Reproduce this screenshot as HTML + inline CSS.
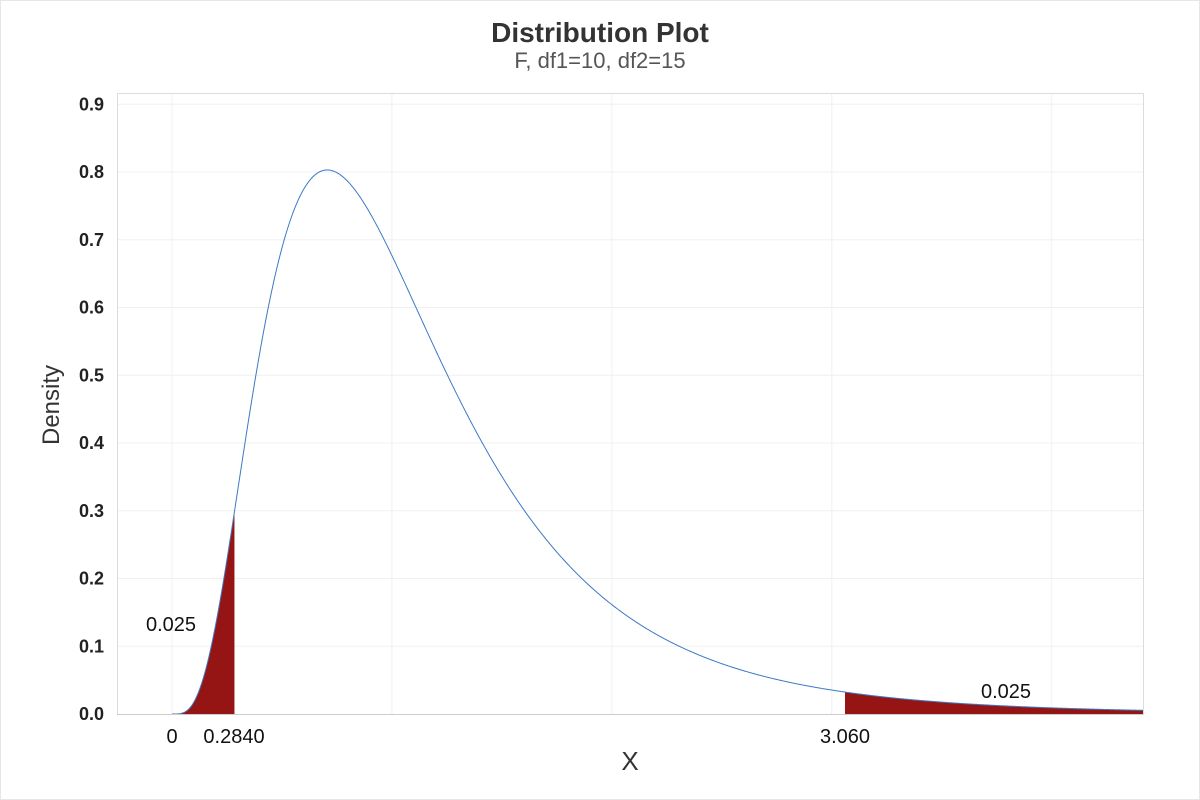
<!DOCTYPE html>
<html><head><meta charset="utf-8"><style>
html,body{margin:0;padding:0;background:#fff}
svg{display:block}
text{font-family:"Liberation Sans",sans-serif}
</style></head><body>
<svg id="s" width="1200" height="800" viewBox="0 0 1200 800">
<rect x="0.5" y="0.5" width="1199" height="799" fill="#fff" stroke="#e6e6e6"/>
<g id="grid" stroke="#f0f0f0" stroke-width="1"></g>
<rect x="117.5" y="93.5" width="1026" height="621" fill="none" stroke="#dcdcdc"/>
<path id="lt" fill="#951515"/>
<path id="rt" fill="#951515"/>
<path id="curve" fill="none" stroke="#3d79c4" stroke-width="1"/>
<line x1="117" y1="714.5" x2="1143" y2="714.5" stroke="#cccccc"/>
<g id="yt" font-size="18" font-weight="bold" fill="#222" text-anchor="end"></g>
<text x="600" y="42" font-size="28" font-weight="bold" fill="#333" text-anchor="middle">Distribution Plot</text>
<text x="600" y="68" font-size="22" fill="#555" text-anchor="middle">F, df1=10, df2=15</text>
<text transform="translate(59,405) rotate(-90)" font-size="24" fill="#333" text-anchor="middle">Density</text>
<text x="630" y="770" font-size="26" fill="#333" text-anchor="middle">X</text>
<g font-size="20" fill="#111" text-anchor="middle">
<text x="172" y="743">0</text>
<text x="234" y="743">0.2840</text>
<text x="845" y="743">3.060</text>
<text x="171" y="631">0.025</text>
<text x="1006" y="698">0.025</text>
</g>
</svg>
<script>
function lg(z){var g=7,c=[0.99999999999980993,676.5203681218851,-1259.1392167224028,771.32342877765313,-176.61502916214059,12.507343278686905,-0.13857109526572012,9.9843695780195716e-6,1.5056327351493116e-7];
if(z<0.5)return Math.log(Math.PI/Math.sin(Math.PI*z))-lg(1-z);z-=1;var a=c[0],t=z+g+0.5;for(var i=1;i<9;i++)a+=c[i]/(z+i);
return 0.5*Math.log(2*Math.PI)+(z+0.5)*Math.log(t)-t+Math.log(a);}
var d1=10,d2=15,lc=lg((d1+d2)/2)-lg(d1/2)-lg(d2/2)+(d1/2)*Math.log(d1/d2);
function f(x){if(x<=0)return 0;return Math.exp(lc+(d1/2-1)*Math.log(x)-((d1+d2)/2)*Math.log(1+d1*x/d2));}
var X0=172,SX=219.93,Y0=714,SY=677.5;
function px(x){return X0+x*SX}function py(y){return Y0-y*SY}
var xmax=(1143-X0)/SX,p="",i,x;
for(i=0;i<=1200;i++){x=xmax*i/1200;p+=(i?"L":"M")+px(x).toFixed(2)+","+py(f(x)).toFixed(2);}
document.getElementById("curve").setAttribute("d",p);
var l="M"+px(0)+","+Y0;for(i=0;i<=100;i++){x=0.284*i/100;l+="L"+px(x).toFixed(2)+","+py(f(x)).toFixed(2);}l+="L"+px(0.284)+","+Y0+"Z";
document.getElementById("lt").setAttribute("d",l);
var r="M"+px(3.06)+","+Y0;for(i=0;i<=100;i++){x=3.06+(xmax-3.06)*i/100;r+="L"+px(x).toFixed(2)+","+py(f(x)).toFixed(2);}r+="L1143,"+Y0+"Z";
document.getElementById("rt").setAttribute("d",r);
var g=document.getElementById("grid"),yt=document.getElementById("yt"),ns="http://www.w3.org/2000/svg";
for(i=1;i<=9;i++){var y=py(i/10),e=document.createElementNS(ns,"line");e.setAttribute("x1",117);e.setAttribute("x2",1143);e.setAttribute("y1",y);e.setAttribute("y2",y);g.appendChild(e);}
for(i=0;i<=4;i++){var xx=px(i),e2=document.createElementNS(ns,"line");e2.setAttribute("x1",xx);e2.setAttribute("x2",xx);e2.setAttribute("y1",93);e2.setAttribute("y2",714);g.appendChild(e2);}
for(i=0;i<=9;i++){var t=document.createElementNS(ns,"text");t.setAttribute("x",104);t.setAttribute("y",py(i/10)+6);t.textContent=(i/10).toFixed(1);yt.appendChild(t);}
</script>
</body></html>
